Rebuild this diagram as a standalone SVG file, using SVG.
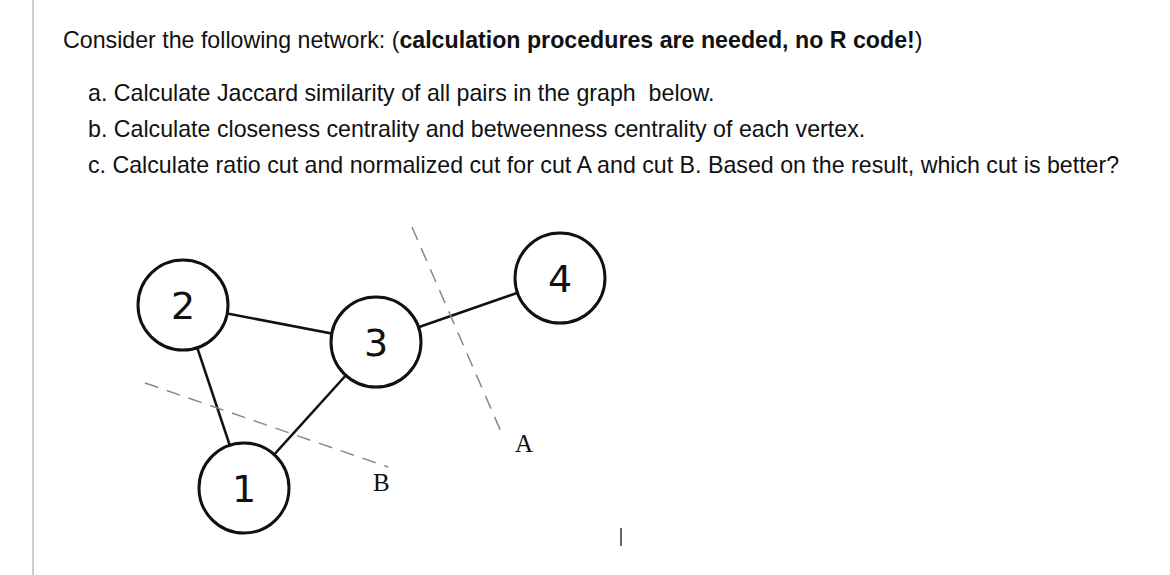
<svg xmlns="http://www.w3.org/2000/svg" width="1170" height="575" viewBox="0 0 1170 575">
<style>
.t{font-family:"Liberation Sans",Arial,sans-serif;font-size:23.2px;fill:#111}
.n circle{fill:#fff;stroke:#111;stroke-width:3}
.n text{font-family:"DejaVu Sans",sans-serif;font-size:38px;text-anchor:middle;fill:#111}
.e line{stroke:#111;stroke-width:2.5}
.cut{stroke:#888;stroke-width:1.5;stroke-dasharray:14,9;fill:none}
.cl{font-family:"Liberation Serif",serif;font-size:25px;fill:#111}
</style>
<rect width="1170" height="575" fill="#fff"/>
<line x1="33" y1="0" x2="33" y2="575" stroke="#ccc" stroke-width="2"/>
<text class="t" x="63" y="48">Consider the following network: (<tspan font-weight="bold">calculation procedures are needed, no R code!</tspan>)</text>
<text class="t" x="88" y="101">a. Calculate Jaccard similarity of all pairs in the graph&#160; below.</text>
<text class="t" x="88" y="137">b. Calculate closeness centrality and betweenness centrality of each vertex.</text>
<text class="t" x="88" y="173">c. Calculate ratio cut and normalized cut for cut A and cut B. Based on the result, which cut is better?</text>
<g class="e">
<line x1="183" y1="305" x2="376" y2="342"/>
<line x1="183" y1="305" x2="244" y2="488"/>
<line x1="376" y1="342" x2="244" y2="488"/>
<line x1="376" y1="342" x2="560" y2="278"/>
</g>
<line class="cut" x1="412" y1="227" x2="502" y2="434"/>
<line class="cut" x1="145" y1="383" x2="388" y2="467"/>
<text class="cl" x="515" y="452">A</text>
<text class="cl" x="373" y="491">B</text>
<g id="n2" class="n"><circle cx="183" cy="305" r="45"/><text x="183" y="319">2</text></g>
<g id="n3" class="n"><circle cx="376" cy="342" r="45"/><text x="376" y="356">3</text></g>
<g id="n4" class="n"><circle cx="560" cy="278" r="45"/><text x="560" y="292">4</text></g>
<g id="n1" class="n"><circle cx="244" cy="488" r="45"/><text x="244" y="502">1</text></g>
<line x1="621" y1="528" x2="621" y2="546" stroke="#333" stroke-width="1.5"/>
</svg>
